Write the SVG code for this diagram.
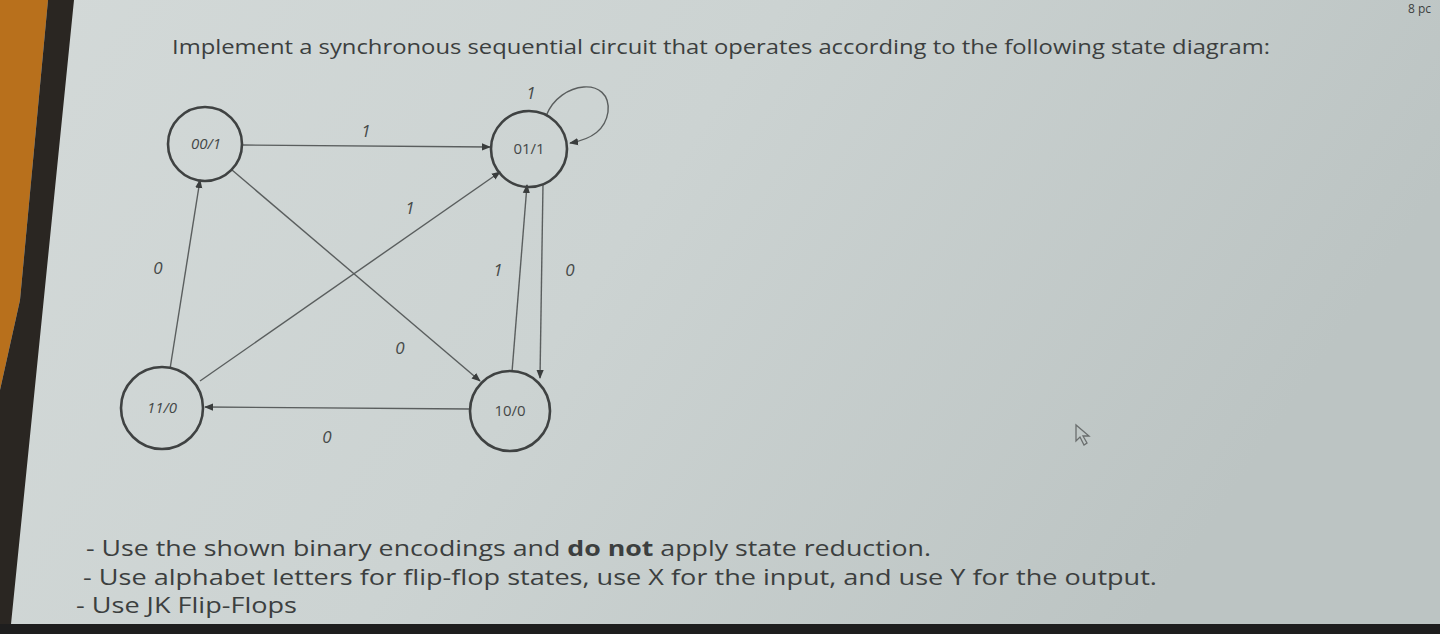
<svg xmlns="http://www.w3.org/2000/svg" width="1440" height="634" viewBox="0 0 1440 634">
<defs>
<linearGradient id="scr" x1="0" y1="0" x2="1" y2="0.3">
<stop offset="0" stop-color="#d3d9d8"/>
<stop offset="0.5" stop-color="#ccd3d2"/>
<stop offset="1" stop-color="#bcc4c3"/>
</linearGradient>
<marker id="ah" viewBox="0 0 10 10" refX="9" refY="5" markerWidth="9" markerHeight="9" markerUnits="userSpaceOnUse" orient="auto">
<path d="M0,1 L10,5 L0,9 Z" fill="#3a3d3d"/>
</marker>
<style>
.st{fill:none;stroke:#3f4242;stroke-width:2.6}
.ed{fill:none;stroke:#5a5e5e;stroke-width:1.4;marker-end:url(#ah)}
.nl{font-family:"Open Sans","Liberation Sans",sans-serif;font-size:15px;fill:#454848;text-anchor:middle}
.el{font-family:"Open Sans","Liberation Sans",sans-serif;font-size:17px;fill:#474a4a;text-anchor:middle;font-style:italic}
.tx{font-family:"Open Sans","Liberation Sans",sans-serif;fill:#3c3f3f}
</style>
</defs>
<rect width="1440" height="634" fill="url(#scr)"/>
<polygon points="0,0 48,0 20,300 0,390" fill="#b8701c"/>
<polygon points="48,0 74,0 10,634 0,634 0,390 20,300" fill="#2a2622"/>
<rect x="0" y="624" width="1440" height="10" fill="#1e1e1e"/>
<text x="1408" y="13" class="tx" font-size="12" fill="#505353">8 pc</text>

<text x="172" y="54" class="tx" font-size="20" textLength="1098" lengthAdjust="spacingAndGlyphs" fill="#4a4d4d">Implement a synchronous sequential circuit that operates according to the following state diagram:</text>

<g id="connectors">
<line class="ed" x1="243" y1="145" x2="490" y2="147"/>
<text class="el" x="366" y="137">1</text>
<path class="ed" d="M546,116 C560,80 612,76 608,112 C605,132 588,140 570,143"/>
<text class="el" x="531" y="99">1</text>
<line class="ed" x1="232" y1="170" x2="480" y2="381"/>
<text class="el" x="400" y="354">0</text>
<line class="ed" x1="200" y1="381" x2="500" y2="172"/>
<text class="el" x="410" y="214">1</text>
<line class="ed" x1="170" y1="369" x2="200" y2="180"/>
<text class="el" x="158" y="274">0</text>
<line class="ed" x1="512" y1="372" x2="527" y2="185"/>
<text class="el" x="498" y="276">1</text>
<line class="ed" x1="543" y1="184" x2="540" y2="378"/>
<text class="el" x="570" y="276">0</text>
<line class="ed" x1="470" y1="409" x2="205" y2="407"/>
<text class="el" x="327" y="443">0</text>
</g>

<g id="n00"><circle class="st" cx="205" cy="144" r="37"/><text class="nl" x="206" y="149" font-style="italic">00/1</text></g>
<g id="n01"><circle class="st" cx="529" cy="149" r="38"/><text class="nl" x="529" y="154">01/1</text></g>
<g id="n11"><circle class="st" cx="162" cy="408" r="41"/><text class="nl" x="162" y="413" font-style="italic">11/0</text></g>
<g id="n10"><circle class="st" cx="510" cy="411" r="40"/><text class="nl" x="510" y="416">10/0</text></g>

<path d="M1076,425 L1076,441 L1080,437 L1084,445 L1087,443 L1083,436 L1089,436 Z" fill="none" stroke="#6a6e6e" stroke-width="1.3"/>

<text class="tx" x="86" y="556" font-size="22" textLength="845" lengthAdjust="spacingAndGlyphs">- Use the shown binary encodings and <tspan font-weight="bold">do not</tspan> apply state reduction.</text>
<text class="tx" x="83" y="585" font-size="22" textLength="1074" lengthAdjust="spacingAndGlyphs">- Use alphabet letters for flip-flop states, use X for the input, and use Y for the output.</text>
<text class="tx" x="76" y="613" font-size="22" textLength="221" lengthAdjust="spacingAndGlyphs">- Use JK Flip-Flops</text>
</svg>
